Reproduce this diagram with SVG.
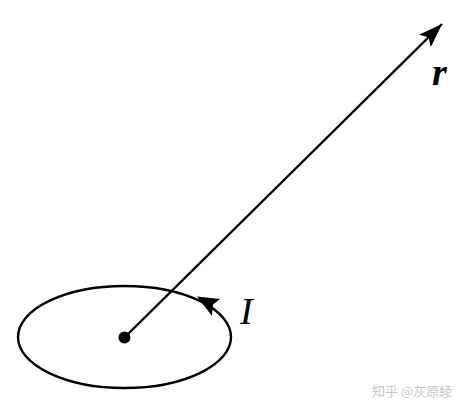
<svg xmlns="http://www.w3.org/2000/svg" width="474" height="408" viewBox="0 0 474 408">
<style>
.ln{fill:none;stroke:#000;stroke-width:2.4}
.lbl{font-family:"Liberation Serif","DejaVu Serif",serif;fill:#000}
</style>
<defs>
<marker id="ah" markerWidth="26" markerHeight="20" viewBox="0 0 26 20" refX="24" refY="10" orient="auto" markerUnits="userSpaceOnUse">
<path d="M0,1.5 L24,10 L0,18.5 L5,10 Z" fill="#000"/>
</marker>
</defs>
<rect width="474" height="408" fill="#fff"/>
<g id="loop">
<ellipse class="ln" cx="124.5" cy="337" rx="106.5" ry="51"/>
<path d="M197,296.5 L220,299 L213,304.5 L212,316 Z" fill="#000"/>
</g>
<g id="connectors">
<line class="ln" x1="124.5" y1="337.5" x2="442" y2="24" marker-end="url(#ah)"/>
</g>
<g id="origin">
<circle cx="124.5" cy="337.5" r="6" fill="#000"/>
</g>
<g id="labels">
<text class="lbl" x="240" y="324" font-size="38" font-style="italic">I</text>
<text class="lbl" x="432" y="85" font-size="38" font-style="italic" font-weight="bold">r</text>
</g>
<g id="watermark">
<text x="372" y="396" font-size="13" fill="#c8c8c8" font-family="'Noto Sans CJK SC',sans-serif">知乎 @灰原綾</text>
</g>
</svg>
